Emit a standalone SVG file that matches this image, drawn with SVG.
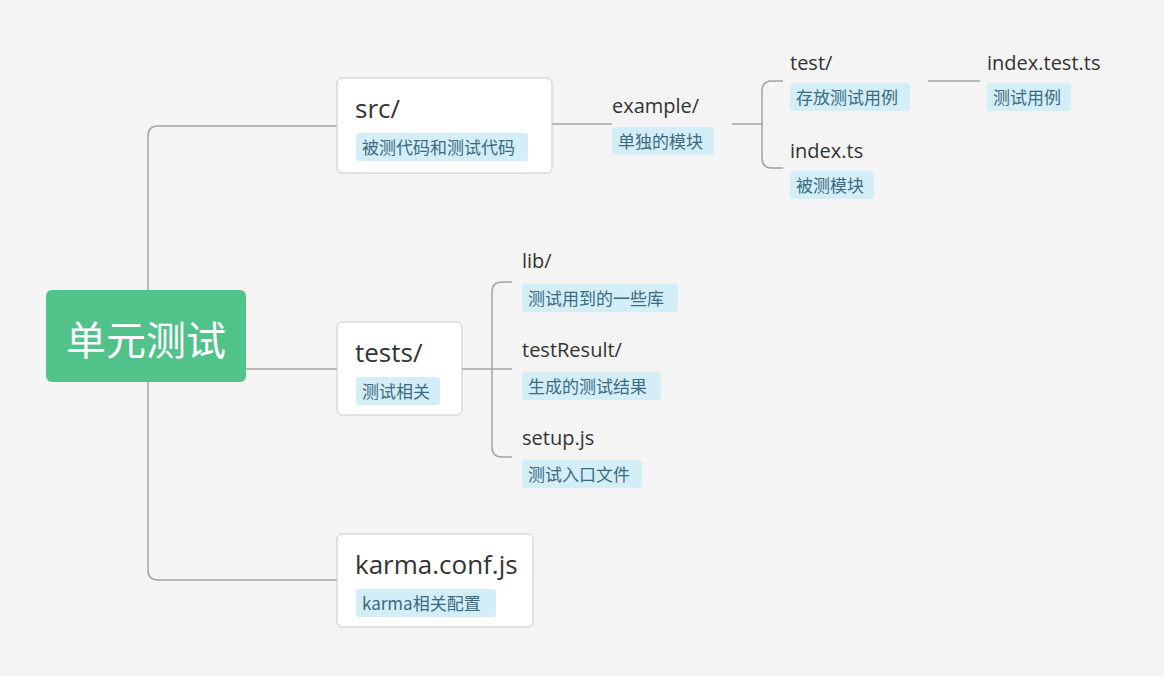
<svg xmlns="http://www.w3.org/2000/svg" width="1164" height="676" viewBox="0 0 1164 676">
<style>
.ln{fill:none;stroke:#a3a3a3;stroke-width:1.5}
.box{fill:#fff;stroke:#c8c8c8;stroke-width:1}
.t1{font-family:"Open Sans","Noto Sans",sans-serif;font-size:26px;fill:#333}
.t2{font-family:"Open Sans","Noto Sans",sans-serif;font-size:20px;fill:#333}
.lb{fill:#d4eef8}
.lt{font-family:"Noto Sans CJK SC",sans-serif;font-size:17px;fill:#3b6b80}
</style>
<rect width="1164" height="676" fill="#f4f4f4"/>
<g id="connectors">
<path class="ln" d="M337 126H158Q148 126 148 136V570Q148 580 158 580H337"/>
<path class="ln" d="M246 369H337"/>
<path class="ln" d="M552 124H612"/>
<path class="ln" d="M732 124H762M783 81H772Q762 81 762 91V158Q762 168 772 168H783"/>
<path class="ln" d="M928 81H980"/>
<path class="ln" d="M462 369H512M512 282H502Q492 282 492 292V447Q492 457 502 457H512"/>
</g>
<g id="root">
<rect x="46" y="290" width="200" height="92" rx="6" fill="#52c28b"/>
<text x="146" y="355" text-anchor="middle" font-family="Noto Sans CJK SC,sans-serif" font-size="40" fill="#fff">单元测试</text>
</g>
<g id="src">
<rect class="box" x="337" y="78" width="215" height="95" rx="5"/>
<text class="t1" x="355" y="118">src/</text>
<rect class="lb" x="356" y="133" width="172" height="28" rx="3"/>
<text class="lt" x="362" y="154">被测代码和测试代码</text>
</g>
<g id="tests">
<rect class="box" x="337" y="322" width="125" height="93" rx="5"/>
<text class="t1" x="355" y="362">tests/</text>
<rect class="lb" x="356" y="377" width="84" height="28" rx="3"/>
<text class="lt" x="362" y="398">测试相关</text>
</g>
<g id="karma">
<rect class="box" x="337" y="534" width="196" height="93" rx="5"/>
<text class="t1" x="355" y="574">karma.conf.js</text>
<rect class="lb" x="356" y="589" width="140" height="28" rx="3"/>
<text class="lt" x="362" y="610">karma相关配置</text>
</g>
<g id="example">
<text class="t2" x="612" y="113">example/</text>
<rect class="lb" x="612" y="127" width="102" height="28" rx="3"/>
<text class="lt" x="618" y="148">单独的模块</text>
</g>
<g id="test">
<text class="t2" x="790" y="70">test/</text>
<rect class="lb" x="790" y="83" width="120" height="28" rx="3"/>
<text class="lt" x="796" y="104">存放测试用例</text>
</g>
<g id="indexts">
<text class="t2" x="790" y="158">index.ts</text>
<rect class="lb" x="790" y="171" width="84" height="28" rx="3"/>
<text class="lt" x="796" y="192">被测模块</text>
</g>
<g id="indextestts">
<text class="t2" x="987" y="70">index.test.ts</text>
<rect class="lb" x="987" y="83" width="84" height="28" rx="3"/>
<text class="lt" x="993" y="104">测试用例</text>
</g>
<g id="lib">
<text class="t2" x="522" y="268">lib/</text>
<rect class="lb" x="522" y="284" width="156" height="28" rx="3"/>
<text class="lt" x="528" y="305">测试用到的一些库</text>
</g>
<g id="testResult">
<text class="t2" x="522" y="357">testResult/</text>
<rect class="lb" x="522" y="372" width="139" height="28" rx="3"/>
<text class="lt" x="528" y="393">生成的测试结果</text>
</g>
<g id="setup">
<text class="t2" x="522" y="445">setup.js</text>
<rect class="lb" x="522" y="460" width="120" height="28" rx="3"/>
<text class="lt" x="528" y="481">测试入口文件</text>
</g>
</svg>
